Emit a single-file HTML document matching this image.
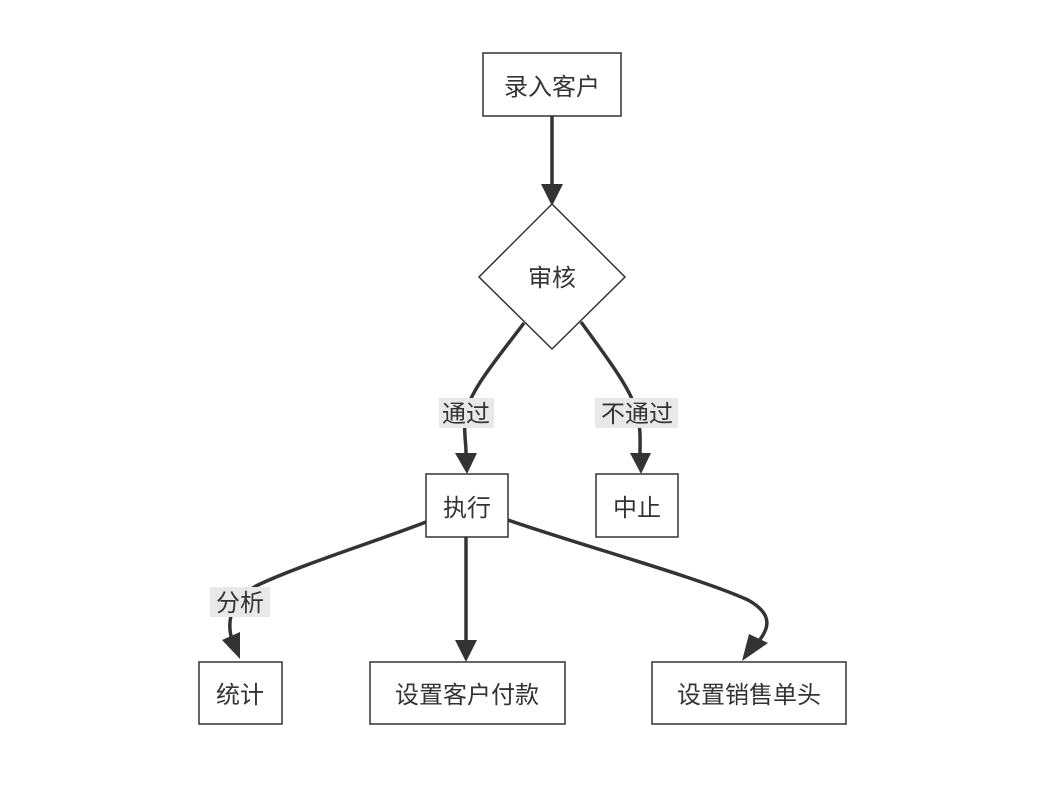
<!DOCTYPE html>
<html><head><meta charset="utf-8"><style>
html,body{margin:0;padding:0;background:#fff;}
svg text{font-family:"Liberation Sans","Noto Sans CJK SC",sans-serif;font-size:24px;fill:#333;}
</style></head><body>
<svg width="1046" height="781" viewBox="0 0 1046 781" xmlns="http://www.w3.org/2000/svg">
<defs><marker id="a" viewBox="0 0 10 10" refX="9" refY="5" markerWidth="6.5" markerHeight="6.5" orient="auto" markerUnits="userSpaceOnUse" style="overflow:visible"><path d="M0,0L10,5L0,10z" fill="#333" transform="scale(2.1)"/></marker></defs>
<g fill="none" stroke="#333" stroke-width="3.5">
<path d="M552,116 L552,184"/>
<path d="M524,323 C500,355 470,390 466,413 C463,430 466,440 466,453"/>
<path d="M581,322 C605,355 632,390 637,413 C641,430 640,440 640,453"/>
<path d="M426,522 C380,540 300,565 258,585 C232,598 226,620 232,640"/>
<path d="M466,537 L466,640"/>
<path d="M508,520 C580,545 700,578 748,600 C775,615 768,630 758,642"/>
</g>
<g fill="#333">
<path d="M541,184 L563,184 L552,206z"/>
<path d="M455,453 L477,453 L467,474z"/>
<path d="M630,453 L651,453 L641,474z"/>
<path d="M222,640 L240,632 L240,659z"/>
<path d="M455,640 L477,640 L466,662z"/>
<path d="M749,634 L768,643 L742,661z"/>
</g>
<g fill="#fff" stroke="#333" stroke-width="1.5">
<rect x="483" y="53" width="138" height="63"/>
<path d="M552,204 L625,277 L552,349 L479,277z"/>
<rect x="426" y="474" width="82" height="63"/>
<rect x="596" y="474" width="82" height="63"/>
<rect x="199" y="662" width="83" height="62"/>
<rect x="370" y="662" width="195" height="62"/>
<rect x="652" y="662" width="194" height="62"/>
</g>
<g fill="#e8e8e8">
<rect x="439" y="398" width="55" height="30"/>
<rect x="595" y="398" width="83" height="30"/>
<rect x="210" y="587" width="60" height="30"/>
</g>
<g text-anchor="middle">
<text x="552" y="95">录入客户</text>
<text x="552" y="286">审核</text>
<text x="466" y="422">通过</text>
<text x="637" y="422">不通过</text>
<text x="467" y="516">执行</text>
<text x="637" y="516">中止</text>
<text x="240" y="611">分析</text>
<text x="240" y="703">统计</text>
<text x="467" y="703">设置客户付款</text>
<text x="749" y="703">设置销售单头</text>
</g>
</svg>
</body></html>
